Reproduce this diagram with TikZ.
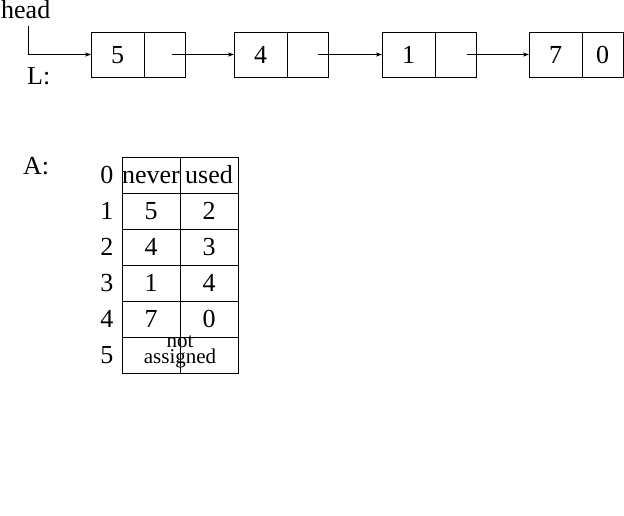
\documentclass[tikz,border=0pt]{standalone}
\usepackage{fontspec}
\setmainfont{Liberation Serif}
\usetikzlibrary{positioning}
\usetikzlibrary{arrows.meta}

\begin{document}
\begin{tikzpicture}[
            x=1pt, y=-1pt,
            every node/.style={font=\fontsize{26}{30}\selectfont},
            valcell/.style={rectangle, draw, line width=0.8pt, outer sep=0pt, inner sep=0pt, minimum height=45pt, minimum width=53pt, text height=17.6pt, text depth=0pt},
            ptrcell/.style={rectangle, draw, line width=0.8pt, outer sep=0pt, inner sep=0pt, minimum height=45pt, minimum width=41pt, text height=17.6pt, text depth=0pt},
            tabcell/.style={rectangle, draw, line width=0.8pt, outer sep=0pt, inner sep=0pt, minimum height=36pt, minimum width=58pt, text height=17.6pt, text depth=0pt},
            link/.style={line width=0.8pt, -{Stealth[length=6pt, width=4pt]}},
            ]
            \useasboundingbox (0,0) rectangle (624,516);

            % the list L
            \node[anchor=base west, inner sep=0pt] (head) at (1,19) {head};
            \node[anchor=base west, inner sep=0pt] (L) at (27,85) {L:};

            \node[valcell, anchor=west] (v5) at (91,54.5) {5};
            \node[ptrcell, right=0pt of v5] (p5) {};
            \node[valcell, anchor=west] (v4) at (234,54.5) {4};
            \node[ptrcell, right=0pt of v4] (p4) {};
            \node[valcell, anchor=west] (v1) at (382,54.5) {1};
            \node[ptrcell, right=0pt of v1] (p1) {};
            \node[valcell, anchor=west] (v7) at (529,54.5) {7};
            \node[ptrcell, right=0pt of v7] (p7) {0};

            \draw[link] ([xshift=3pt, yshift=-7pt]head.south) |- (v5.west);
            \draw[link] ([xshift=7pt]p5.center) -- (v4.west);
            \draw[link] ([xshift=10pt]p4.center) -- (v1.west);
            \draw[link] ([xshift=11pt]p1.center) -- (v7.west);

            % the array A
            \node[anchor=base west, inner sep=0pt] (A) at (23,175) {A:};

            \foreach \i/\l/\r in {0/never/used, 1/5/2, 2/4/3, 3/1/4, 4/7/0, 5/{}/{}} {
                \node[tabcell] (l\i) at (151,175+36*\i) {\l};
                \node[tabcell, right=0pt of l\i] (r\i) {\r};
                \node[left=5pt of l\i, text height=17.6pt, text depth=0pt] (i\i) {\i};
            }
            \node[align=center, font=\fontsize{21}{13}\selectfont] (na) at (180,352) {not\\assigned};
        \end{tikzpicture}
\end{document}
